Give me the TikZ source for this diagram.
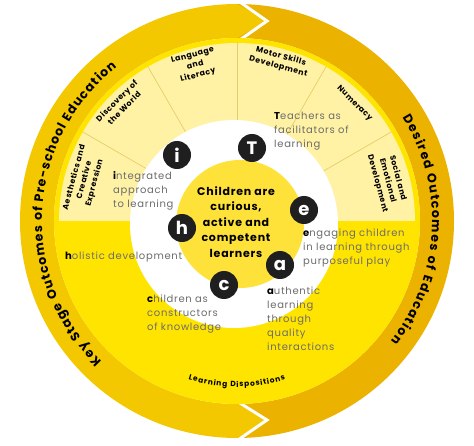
\documentclass[tikz,border=0pt]{standalone}
\usepackage{fontspec}
\setmainfont{Poppins}
\newfontfamily\spacedfam{Poppins}[LetterSpace=7]
\usetikzlibrary{decorations.text}

\definecolor{bandL}{HTML}{F4C800}
\definecolor{bandR}{HTML}{ECB200}
\definecolor{sunny}{HTML}{FFE400}
\definecolor{pale}{HTML}{FFF2A4}
\definecolor{seam}{HTML}{E6CC6A}
\definecolor{core}{HTML}{FEE23A}
\definecolor{greytxt}{HTML}{6C6C6C}

\newcommand{\firstch}[1]{{\bfseries\color{black}#1}}
\newcommand{\bandfont}{\bfseries\fontsize{12.5}{13}\selectfont}
\newcommand{\dispfont}{\bfseries\fontsize{7.5}{8}\selectfont}

\begin{document}
\begin{tikzpicture}[x=1pt, y=1pt,
  seclab/.style={font=\spacedfam\bfseries\fontsize{7.8}{10.5}\selectfont, align=center, inner sep=0},
  letter/.style={circle, fill=black!88, text=white, minimum size=28pt, inner sep=0,
    font=\bfseries\fontsize{18}{18}\selectfont},
  idea/.style={text=greytxt, align=left, anchor=west, inner sep=0,
    font=\spacedfam\fontsize{10}{14}\selectfont},
  chevron/.style={draw=white, line width=3pt, line join=miter}
]
  \useasboundingbox (0,0) rectangle (474,445);
  \fill[white] (0,0) rectangle (474,445);
  \coordinate (C) at (237,224);

  \fill[bandL] (237,441) arc[start angle=90, end angle=270, radius=217]
    -- (237,41) arc[start angle=270, end angle=90, radius=183] -- cycle;
  \fill[bandR] (237,441) arc[start angle=90, end angle=-90, radius=217]
    -- (237,41) arc[start angle=-90, end angle=90, radius=183] -- cycle;
  \fill[bandL] (237,441) -- (267,424) -- (237,407) -- cycle;
  \fill[bandL] (237,7) -- (267,25) -- (237,41) -- cycle;
  \draw[chevron] (237,445) -- (267,424) -- (237,403);
  \draw[chevron] (235,3) -- (267,25) -- (235,45);

  \fill[sunny] (C) circle[radius=183];
  \fill[pale] ([shift={(0:178)}]C) arc[start angle=0, end angle=180, radius=178] -- cycle;
  \foreach \a in {30,60,...,150}
    \draw[seam, line width=0.7pt] ([shift={(\a:100)}]C) -- ([shift={(\a:178)}]C);

  \fill[white] (234,221) circle[radius=104];
  \fill[core] (240,221) circle[radius=64];

  \path[decorate, decoration={text along path, text align={fit to path},
    text={|\bandfont|Key Stage Outcomes of Pre-school Education}}]
    ([shift={(226:195)}]C) arc[start angle=226, end angle=128, radius=195];
  \path[decorate, decoration={text along path, text align={fit to path},
    text={|\bandfont|Desired Outcomes of Education}}]
    ([shift={(32:195)}]C) arc[start angle=32, end angle=-38, radius=195];
  \path[decorate, decoration={text along path, text align={fit to path},
    text={|\dispfont|Learning Dispositions}}]
    ([shift={(253:166)}]C) arc[start angle=253, end angle=287, radius=166];

  \node[seclab, rotate=75] (aes) at ([shift={(165:158)}]C) {Aesthetics and\\Creative\\Expression};
  \node[seclab, rotate=45] (dis) at ([shift={(135:165)}]C) {Discovery of\\the World};
  \node[seclab, rotate=15] (lan) at ([shift={(105:161)}]C) {Language\\and\\Literacy};
  \node[seclab, rotate=-15] (mot) at ([shift={(75:165)}]C) {Motor Skills\\Development};
  \node[seclab, rotate=-45] (num) at ([shift={(45:166)}]C) {Numeracy};
  \node[seclab, rotate=-75] (soc) at ([shift={(15:156)}]C) {Social and\\Emotional\\Development};

  \node[font=\spacedfam\bfseries\fontsize{11}{15.5}\selectfont, align=center, inner sep=0] (kids) at (236,223)
    {Children are\\curious,\\active and\\competent\\learners};

  \node[letter] (li) at (177,290) {i};
  \node[letter] (lT) at (252,297) {T};
  \node[letter] (le) at (304,235) {e};
  \node[letter] (lh) at (182,217) {h};
  \node[letter] (la) at (280,180) {a};
  \node[letter] (lc) at (224,160) {c};

  \node[idea] (ti) at (113,254) {\firstch{i}ntegrated\\approach\\to learning};
  \node[idea] (tT) at (274,314) {\firstch{T}eachers as\\facilitators of\\learning};
  \node[idea] (te) at (303,197) {\firstch{e}ngaging children\\in learning through\\purposeful play};
  \node[idea] (ta) at (267,126) {\firstch{a}uthentic\\learning\\through\\quality\\interactions};
  \node[idea] (tc) at (147,131) {\firstch{c}hildren as\\constructors\\of knowledge};
  \node[idea] (th) at (65,188) {\firstch{h}olistic development};
\end{tikzpicture}
\end{document}
